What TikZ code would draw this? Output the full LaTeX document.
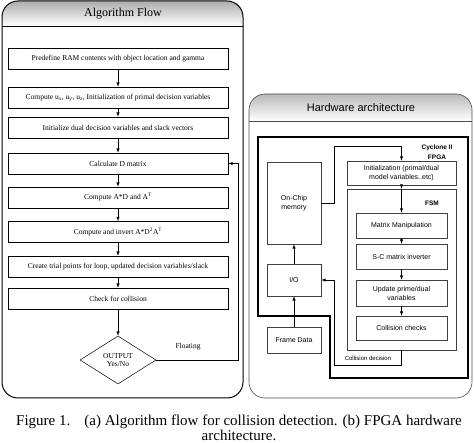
\documentclass[tikz,border=0pt]{standalone}
\usepackage{fontspec}
\setmainfont{Liberation Serif}
\setsansfont{Liberation Sans}
\usetikzlibrary{arrows,shapes.geometric}

\tikzset{
  flowbox/.style={draw, line width=0.5pt, minimum width=220pt, minimum height=21pt, inner sep=1pt, font=\fontsize{7.5}{9}\selectfont},
  hwbox/.style={draw=black!75, line width=0.5pt, align=center, inner sep=1pt, font=\sffamily\fontsize{7}{9}\selectfont},
  arr/.style={-latex, line width=0.5pt}
}

\begin{document}
\begin{tikzpicture}[x=1pt,y=-1pt]
		\useasboundingbox (0,0) rectangle (474,443);
		
		% left panel
		\begin{scope}
		\clip[rounded corners=16pt] (2,1) rectangle (243,398);
		\shade[top color=gray!65, bottom color=white] (2,1) rectangle (243,26);
		\end{scope}
		\draw[line width=1pt, rounded corners=16pt] (2,1) rectangle (243,398);
		\draw (2,26) -- (243,26);
		\node[font=\fontsize{12}{14}\selectfont] (algtitle) at (123,14) {Algorithm Flow};
		
		\node[flowbox] (b1) at (118,58.5) {Predefine RAM contents with object location and gamma};
		\node[flowbox] (b2) at (118,97.5) {Compute u\textsubscript{x}, u\textsubscript{y}, u\textsubscript{z}, Initialization of primal decision variables};
		\node[flowbox] (b3) at (118,127.5) {Initialize dual decision variables and slack vectors};
		\node[flowbox] (b4) at (118,163.5) {Calculate D matrix};
		\node[flowbox] (b5) at (118,197.5) {Compute A*D and A\textsuperscript{T}};
		\node[flowbox] (b6) at (118,232) {Compute and invert A*D\textsuperscript{2}A\textsuperscript{T}};
		\node[flowbox] (b7) at (118,266.5) {Create trial points for loop, updated decision variables/slack};
		\node[flowbox] (b8) at (118,298.5) {Check for collision};
		\node[draw, diamond, line width=0.5pt, minimum width=76pt, minimum height=48pt, inner sep=0pt, align=center, font=\fontsize{7.5}{8.5}\selectfont] (out) at (118,360) {OUTPUT\\Yes/No};
		
		\foreach \a/\b in {b1/b2,b2/b3,b3/b4,b4/b5,b5/b6,b6/b7,b7/b8,b8/out} {
		\draw[arr] (\a) -- (\b);
		}
		\coordinate (loop) at (238,360);
		\draw[arr] (out.east) -- (loop) |- (b4.east);
		\node[font=\fontsize{7.5}{9}\selectfont] (floatlbl) at (188,347) {Floating};
		
		% right panel
		\begin{scope}
		\clip[rounded corners=16pt] (249,94) rectangle (472,398);
		\shade[top color=gray!55, bottom color=white] (249,94) rectangle (472,121);
		\end{scope}
		\draw[black!70, line width=0.6pt, rounded corners=16pt] (249,94) rectangle (472,398);
		\draw[black!70, line width=0.6pt] (249,121) -- (472,121);
		\node[font=\sffamily\fontsize{11}{13}\selectfont] (hwtitle) at (361,108) {Hardware architecture};
		
		\draw[line width=2.2pt] (258,137) -- (468,137) -- (468,378) -- (330,378) -- (330,316) -- (258,316) -- cycle;
		\node[align=center, font=\sffamily\bfseries\fontsize{6.5}{10}\selectfont] (fpgalbl) at (437,152) {Cyclone II\\FPGA};
		
		\node[hwbox, minimum width=109pt, minimum height=24pt] (init) at (401.5,173) {Initialization (primal/dual\\model variables..etc)};
		\node[hwbox, minimum width=109pt, minimum height=161pt] (fsm) at (401.5,269.5) {};
		\node[font=\sffamily\bfseries\fontsize{6.5}{8}\selectfont] (fsmlbl) at (432,203) {FSM};
		\node[hwbox, minimum width=91pt, minimum height=25pt] (mm) at (401.5,225.5) {Matrix Manipulation};
		\node[hwbox, minimum width=91pt, minimum height=25pt] (sc) at (401.5,256.5) {S-C matrix inverter};
		\node[hwbox, minimum width=91pt, minimum height=26pt] (upd) at (401.5,293) {Update prime/dual\\variables};
		\node[hwbox, minimum width=91pt, minimum height=24pt] (col) at (401.5,328) {Collision checks};
		
		\node[hwbox, minimum width=54pt, minimum height=82pt] (mem) at (294,203) {On-Chip\\memory};
		\node[hwbox, minimum width=54pt, minimum height=32pt] (io) at (294,280) {I/O};
		\node[hwbox, minimum width=54pt, minimum height=26pt] (frame) at (294,340) {Frame Data};
		
		\coordinate (m1) at (334,146);
		\draw[arr] (mem.east) -| (m1) -| (init.north);
		\draw[arr] (init.south) -- (init.south |- fsm.north);
		\draw[arr] (init.south |- fsm.north) -- (mm.north);
		\foreach \a/\b in {mm/sc,sc/upd,upd/col} {
		\draw[arr] (\a) -- (\b);
		}
		\draw[arr] (frame) -- (io);
		\draw[arr] (io) -- (mem);
		\coordinate (cd) at (334,365);
		\draw[arr] (fsm.south) |- (cd) |- (io.east);
		\node[font=\sffamily\fontsize{6}{7}\selectfont] (cdlbl) at (368,358) {Collision decision};
		
		% caption
		\node[align=center, font=\fontsize{15}{14.5}\selectfont, inner sep=0pt] (caption) at (239,428) {Figure 1.\hspace{14pt}(a) Algorithm flow for collision detection. (b) FPGA hardware\\architecture.};
	\end{tikzpicture}
\end{document}
